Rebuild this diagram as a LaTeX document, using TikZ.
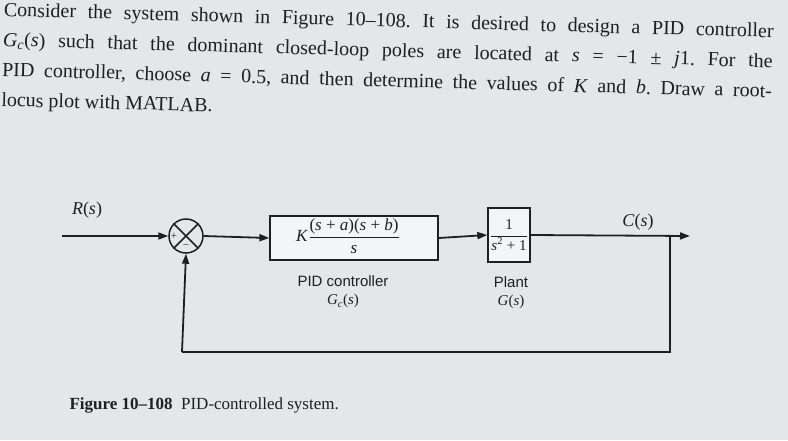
\documentclass[tikz,border=0pt]{standalone}
\usepackage{amsmath}
\usepackage{fontspec}
\setmainfont{Liberation Serif}
\setsansfont{Liberation Sans}
\usetikzlibrary{arrows.meta}
\definecolor{paper}{RGB}{228,231,234}
\definecolor{ink}{RGB}{30,30,35}
\newcommand{\mi}[1]{\textit{#1}}
\frenchspacing
\begin{document}
\begin{tikzpicture}[x=1pt,y=-1pt,
  blk/.style={draw=ink,line width=1.3pt,fill=white!60!paper},
  wire/.style={draw=ink,line width=1.8pt},
  arr/.style={wire,-{Triangle[length=10pt,width=7pt]}},
  lbl/.style={text=ink,font=\sffamily\fontsize{15}{18}\selectfont,align=center}]
\fill[paper] (0,0) rectangle (788,440);
\useasboundingbox (0,0) rectangle (788,440);
\node[anchor=north west,text width=770pt,align=justify,text=ink,inner sep=0pt,rotate=-1.6,
  font=\fontsize{20}{30}\selectfont] (para) at (4,2)
 {Consider the system shown in Figure 10--108. It is desired to design a PID controller\linebreak
 \mi{G}\textsubscript{\mi{c}}(\mi{s}) such that the dominant closed-loop poles are located at \mi{s} = −1 ± \mi{j}1. For the\linebreak
 PID controller, choose \mi{a} = 0.5, and then determine the values of \mi{K} and \mi{b}. Draw a root-\linebreak
 locus plot with MATLAB.};
% diagram
\node[text=ink,font=\fontsize{18}{20}\selectfont] (R) at (87,210) {\mi{R}(\mi{s})};
\coordinate (in) at (62,236);
\node[draw=ink,line width=1.5pt,circle,minimum size=34pt,inner sep=0pt] (sum) at (186,236) {};
\draw[ink,line width=1.5pt] (sum.north west) -- (sum.south east) (sum.north east) -- (sum.south west);
\node[text=ink,font=\fontsize{11}{11}\selectfont,inner sep=0pt] (plus) at (174,236) {+};
\node[text=ink,font=\fontsize{11}{11}\selectfont,inner sep=0pt] (minus) at (186,247) {−};
\node[blk,minimum width=168pt,minimum height=44pt] (pid) at (354,238) {};
\node[text=ink,font=\fontsize{17}{19}\selectfont] (pidt) at (348,236)
  {$\text{\mi{K}}\dfrac{\text{(\mi{s} + \mi{a})(\mi{s} + \mi{b})}}{\text{\mi{s}}}$};
\node[blk,minimum width=42pt,minimum height=54pt] (plant) at (509,235) {};
\node[text=ink,font=\fontsize{15}{17}\selectfont] (plantt) at (509,235) {$\dfrac{\text{1}}{\text{\mi{s}\textsuperscript{2} + 1}}$};
\node[text=ink,font=\fontsize{18}{20}\selectfont] (C) at (638,222) {\mi{C}(\mi{s})};
\coordinate (out) at (690,236);
\coordinate (br) at (670,236);
\coordinate (fb1) at (670,352);
\coordinate (fb2) at (182,352);
\draw[arr] (in) -- (sum.west);
\draw[arr] (sum.east) -- (pid.west);
\draw[arr] (pid.east) -- (plant.west);
\draw[arr] (plant.east) -- (out);
\draw[wire] (br) -- (fb1) -- (fb2);
\draw[arr] (fb2) -- (sum.south);
\node[lbl] (pidl) at (343,292) {PID controller\\\textrm{\mi{G}\textsubscript{\mi{c}}(\mi{s})}};
\node[lbl] (plantl) at (511,293) {Plant\\\textrm{\mi{G}(\mi{s})}};
\node[anchor=west,text=ink,font=\fontsize{17}{19}\selectfont] (cap) at (66,405)
  {\textbf{Figure 10--108}\enspace PID-controlled system.};
\end{tikzpicture}
\end{document}
